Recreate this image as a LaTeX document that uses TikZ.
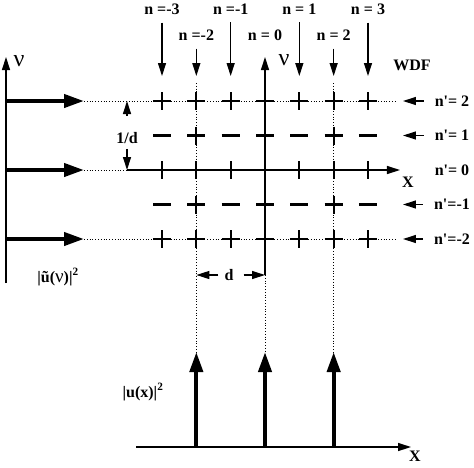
\documentclass[tikz,border=0pt]{standalone}
\usepackage{fontspec}
\setmainfont{Liberation Serif}
\usetikzlibrary{arrows.meta, calc}

\tikzset{
  axis/.style={-{Triangle[length=13pt,width=8pt]}, line width=1.4pt},
  thin arrow/.style={-{Triangle[length=13pt,width=8pt]}, line width=1.2pt},
  fat arrow/.style={-{Triangle[length=20pt,width=13pt]}, line width=4pt},
  guide/.style={dash pattern=on 1pt off 1.8pt, line width=1pt},
  sign/.style={line width=2.2pt},
  lbl/.style={font=\fontsize{16}{18}\selectfont\bfseries, inner sep=0pt},
  greek/.style={font=\fontsize{24}{26}\selectfont, inner sep=0pt},
}

\begin{document}
\begin{tikzpicture}[x=1pt, y=-1pt]
  \useasboundingbox (0,0) rectangle (474,467);

  % positions of the signs
  \foreach \n in {-3,...,3}
    \foreach \m in {-2,...,2}
      \coordinate (g\n\m) at ({265+34.33*\n}, {170-34.5*\m});

  \node[lbl] (d) at (229,275) {d};
  \node[lbl] (od) at (127,138) {1/d};

  % left axis with |u~(nu)|^2
  \coordinate (L0) at (6,283);
  \coordinate (L1) at (6,57);
  \draw[axis] (L0) -- (L1);
  \node[greek] (nu1) at (19,61) {ν};
  \foreach \m in {2,0,-2} {
    \coordinate (s\m) at (L0 |- g0\m);
    \coordinate (t\m) at ($(s\m)+(78,0)$);
    \draw[fat arrow] (s\m) -- (t\m);
  }
  \node[lbl] (ut) at (58,277) {|ũ({\mdseries\fontsize{19}{20}\selectfont ν})|\textsuperscript{2}};

  % dotted guides
  \draw[guide] (t2) -- ($(g32)+(28,0)$);
  \draw[guide] (t-2) -- ($(g3-2)+(28,0)$);
  \draw[guide] (t0) -- (od |- g00);
  \foreach \n in {-2,2}
    \draw[guide] ($(g\n2)+(0,-18)$) -- ($(g\n0)+(0,182)$);
  \draw[guide] (g00 |- d) -- ($(g00)+(0,182)$);

  % WDF axes
  \coordinate (xa) at ($(g30)+(32,0)$);
  \coordinate (va) at (g00 |- L1);
  \draw[axis] (od |- g00) -- (xa);
  \draw[axis] (g00 |- d) -- (va);
  \node[lbl] (X1) at (408,182) {X};
  \node[greek] (nu2) at (284,60) {ν};
  \node[lbl] (wdf) at (412,65) {WDF};

  % signs
  \foreach \n in {-3,...,3}
    \foreach \m in {-2,...,2} {
      \pgfmathtruncatemacro{\odd}{mod(abs(\n*\m),2)}
      \draw[sign] ($(g\n\m)+(-9,0)$) -- ++(18,0);
      \ifnum\odd=0 \draw[sign] ($(g\n\m)+(0,-9)$) -- ++(0,18); \fi
    }

  % 1/d and d
  \draw[thin arrow, shorten <=16pt] (od) -- (od |- g02);
  \draw[thin arrow, shorten <=5pt] (od) -- (od |- g00);
  \draw[thin arrow, shorten <=6pt] (d) -- (g-20 |- d);
  \draw[thin arrow, shorten <=10pt] (d) -- (g00 |- d);

  % n labels
  \foreach \n/\y/\t in {-3/9/{n =-3}, -2/35/{n =-2}, -1/9/{n =-1},
      0/35/{n = 0}, 1/9/{n = 1}, 2/35/{n = 2}, 3/9/{n = 3}}
    \node[lbl] (n\n) at ({265+34.33*\n},\y) {\t};
  \foreach \n in {-3,-2,-1,1,2,3}
    \draw[thin arrow, shorten <=8pt] (n\n) -- ($(g\n2)+(0,-25)$);

  % n' labels
  \foreach \m/\t in {2/{n\textquotesingle= 2}, 1/{n\textquotesingle= 1},
      0/{n\textquotesingle= 0}, -1/{n\textquotesingle=-1}, -2/{n\textquotesingle=-2}}
    \node[lbl] (r\m) at ($(g3\m)+(84,0)$) {\t};
  \foreach \m in {2,1,-1,-2}
    \draw[thin arrow, shorten <=11pt] (r\m) -- ($(g3\m)+(35,0)$);

  % |u(x)|^2
  \coordinate (b0) at (136,447);
  \coordinate (b1) at (411,447);
  \draw[axis] (b0) -- (b1);
  \node[lbl] (X2) at (415,456) {X};
  \foreach \n in {-2,0,2}
    \draw[fat arrow] (g\n0 |- b0) -- ($(g\n0)+(0,182)$);
  \node[lbl] (ux) at (143,392) {|u(x)|\textsuperscript{2}};
\end{tikzpicture}
\end{document}
